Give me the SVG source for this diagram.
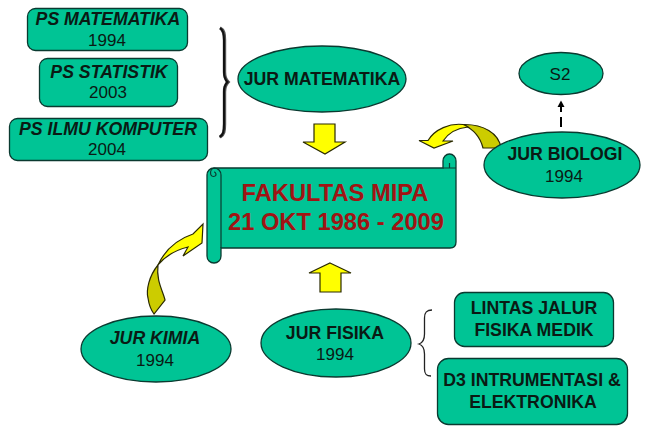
<svg xmlns="http://www.w3.org/2000/svg" width="652" height="436" viewBox="0 0 652 436">
<style>
text{font-family:"Liberation Sans",Arial,sans-serif;text-anchor:middle;fill:#0a1a14;font-size:17px}
.b{font-weight:bold;font-size:17.700px}
.i{font-weight:bold;font-style:italic;font-size:17.700px}
.n{fill:#00c495;stroke:#0a3a30;stroke-width:1.300}
.y{fill:#ffff00;stroke:#2a2a00;stroke-width:1.200;stroke-linejoin:miter}
.d{fill:#cccc00;stroke:#2a2a00;stroke-width:1.200}
.t{font-size:23.700px;font-weight:bold;fill:#a01414}
</style>
<rect width="652" height="436" fill="#fff"/>
<g id="connectors">
<path d="M561 136V132M561 127V117M561 112V106" fill="none" stroke="#000" stroke-width="2"/>
<path d="M561 100.500L564.500 107H557.500Z" fill="#000"/>
<path d="M220 28C224 30 224.500 34 224.500 40V72C224.500 78 226 80 228 82C226 84 224.500 86 224.500 92V124C224.500 131 224 135 220 137" fill="none" stroke="#555" stroke-width="3.400"/>
<path d="M220 28C223.500 30 224 34 224 40V72C224 78 225.500 80 227.500 82C225.500 84 224 86 224 92V124C224 131 223.500 135 219.500 137" fill="none" stroke="#111" stroke-width="2"/>
<path d="M432 310C426 310 424.500 313 424.500 318V334C424.500 340 422 343 419 344C422 345 424.500 348 424.500 354V369C424.500 374 426 376 431 376" fill="none" stroke="#222" stroke-width="1.300"/>
<path class="y" d="M314 124H335V142H345L325 154L303 142H314Z"/>
<path class="y" d="M330 263L351 273H341V292H320V273H309Z"/>
<path class="d" d="M463 124.500C483 124 499 133 501 148H483C480 136 473 129 463 124.500Z"/>
<path class="y" d="M463 124.500C450 123 435 129 428 140.500H419L434 148L453 141H443C449 132 458 128 468 127C466 126 465 125 463 124.500Z"/>
<path class="d" d="M158 265C149 276 146 290 148 298C149 305 151 310 154 314L165 300C163 291 156 281 158 265Z"/>
<path class="y" d="M158 265C165 250 178 239 193 234L203 224L202 243L183 256L188 247C176 250 166 255 158 265Z"/>
</g>
<g id="ps-matematika"><rect class="n" x="27.500" y="8.500" width="160" height="42" rx="8"/><text class="i" x="108" y="25">PS MATEMATIKA</text><text x="107" y="46">1994</text></g>
<g id="ps-statistik"><rect class="n" x="39.500" y="58.500" width="138" height="48" rx="8"/><text class="i" x="109" y="78">PS STATISTIK</text><text x="108" y="98">2003</text></g>
<g id="ps-ilmu-komputer"><rect class="n" x="9.500" y="118.500" width="198" height="42" rx="8"/><text class="i" x="108" y="135">PS ILMU KOMPUTER</text><text x="107" y="155">2004</text></g>
<g id="jur-matematika"><ellipse class="n" cx="322" cy="79" rx="84" ry="33"/><text class="b" x="322" y="85">JUR MATEMATIKA</text></g>
<g id="s2"><ellipse class="n" cx="561" cy="73.500" rx="42" ry="21"/><text x="560" y="80">S2</text></g>
<g id="jur-biologi"><ellipse class="n" cx="562" cy="165" rx="78" ry="33"/><text class="b" x="565" y="160">JUR BIOLOGI</text><text x="564" y="182">1994</text></g>
<g id="fakultas-mipa">
<path class="n" d="M443 168V161C443 157 446 154 449.500 154C453 154 456 157 456 161V242C456 246 454 248 450 248H221V256C221 260 218 263 214 263C210 263 207 260 207 256V175C207 171 210 168 214 168Z"/>
<path d="M214 168C218 168 221 171 221 175V248M443 168H456M449.500 168V163M214 168C211 169 210 172 211 175C212 177 215 177 216 175C216 173 215 172 214 172" fill="none" stroke="#0a3a30" stroke-width="1.200"/>
<text class="t" x="335" y="201">FAKULTAS MIPA</text><text class="t" x="336" y="230">21 OKT 1986 - 2009</text></g>
<g id="jur-kimia"><ellipse class="n" cx="156" cy="349" rx="75" ry="33"/><text class="i" x="155" y="344">JUR KIMIA</text><text x="155" y="366">1994</text></g>
<g id="jur-fisika"><ellipse class="n" cx="336" cy="343" rx="75" ry="34"/><text class="b" x="335" y="339">JUR FISIKA</text><text x="335" y="360">1994</text></g>
<g id="lintas-jalur"><rect class="n" x="454.500" y="292.500" width="159" height="54" rx="10"/><text class="b" x="534" y="314">LINTAS JALUR</text><text class="b" x="534" y="336">FISIKA MEDIK</text></g>
<g id="d3"><rect class="n" x="437.500" y="358.500" width="190" height="66" rx="11"/><text class="b" x="532" y="386">D3 INTRUMENTASI &amp;</text><text class="b" x="533" y="408">ELEKTRONIKA</text></g>
</svg>
